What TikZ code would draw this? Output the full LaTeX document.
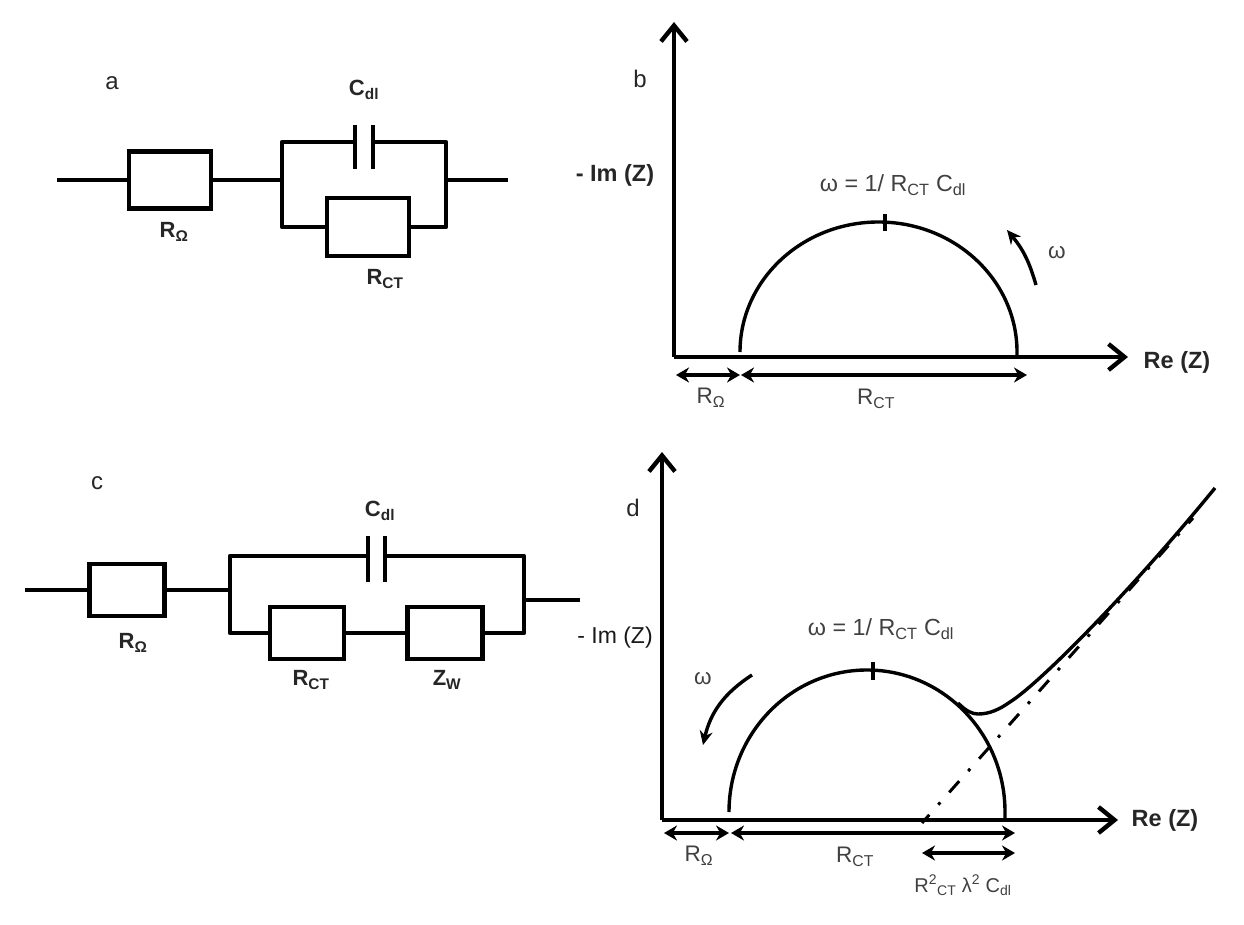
\documentclass[tikz,border=0pt]{standalone}
\usepackage{fontspec}
\setmainfont{Liberation Sans}
\usetikzlibrary{arrows.meta}
\tikzset{
  wire/.style={line width=4.2pt},
  axis/.style={line width=4.2pt, -{Straight Barb[length=16pt,width=26pt,line width=4.4pt]}},
  span/.style={line width=3.6pt, {Stealth[length=13pt,width=15pt]}-{Stealth[length=13pt,width=15pt]}},
  curve/.style={line width=3.4pt},
  tick/.style={line width=3.2pt},
  freq/.style={line width=3.4pt, -{Stealth[length=14pt,width=13pt]}},
  elem/.style={draw, line width=4.5pt, inner sep=0pt, fill=white},
  boldlab/.style={font=\fontsize{22}{24}\selectfont\bfseries, text=black!85, inner sep=0pt},
  plainlab/.style={font=\fontsize{22.5}{25}\selectfont, text=black!75, inner sep=0pt},
  formula/.style={font=\fontsize{23.3}{25}\selectfont, text=black!75, inner sep=0pt},
  smalllab/.style={font=\fontsize{20}{22}\selectfont, text=black!75, inner sep=0pt},
  axlab/.style={font=\fontsize{23.5}{25}\selectfont\bfseries, text=black!85, inner sep=0pt},
  imlab/.style={font=\fontsize{23}{25}\selectfont, text=black!90, inner sep=0pt},
  panel/.style={font=\fontsize{24}{26}\selectfont, text=black!85, inner sep=0pt},
}
\begin{document}
\begin{tikzpicture}[x=1pt,y=-1pt]
\useasboundingbox (0,0) rectangle (1244,925);
% circuit a
\node[elem, minimum width=82pt, minimum height=57pt] (ra) at (170,180){};
\node[elem, minimum width=82pt, minimum height=58pt] (cta) at (368,227){};
\coordinate (ain) at (57,180);
\coordinate (aout) at (508,180);
\coordinate (ajl) at (282,180);
\coordinate (ajr) at (446,180);
\coordinate (atl) at (282,142);
\coordinate (atr) at (446,142);
\coordinate (abl) at (282,227);
\coordinate (abr) at (446,227);
\coordinate (ap1) at (355,142);
\coordinate (ap2) at (373,142);
\coordinate (ap1t) at (355,125);
\coordinate (ap1b) at (355,169);
\coordinate (ap2t) at (373,125);
\coordinate (ap2b) at (373,169);
\draw[wire] (ain) -- (ra);
\draw[wire] (ra) -- (ajl);
\draw[wire] (ajr) -- (aout);
\draw[wire, line join=round] (ap1) -- (atl) -- (abl) -- (cta);
\draw[wire, line join=round] (ap2) -- (atr) -- (abr) -- (cta);
\draw[wire] (ap1t) -- (ap1b);
\draw[wire] (ap2t) -- (ap2b);
\node[panel] (la) at (112,83){a};
\node[boldlab] (cdla) at (364,90){C\textsubscript{dl}};
\node[boldlab] (roa) at (174,232){R\textsubscript{Ω}};
\node[boldlab] (rcta) at (385,279){R\textsubscript{CT}};
% circuit c
\node[elem, minimum width=75pt, minimum height=52pt] (rc) at (127,590){};
\node[elem, minimum width=74pt, minimum height=52pt] (ctc) at (307,633){};
\node[elem, minimum width=75pt, minimum height=52pt] (zw) at (445,633){};
\coordinate (cin) at (25,590);
\coordinate (cout) at (580,600);
\coordinate (cjl) at (230,590);
\coordinate (cjr) at (524,600);
\coordinate (ctl) at (230,556);
\coordinate (ctr) at (524,556);
\coordinate (cbl) at (230,633);
\coordinate (cbr) at (524,633);
\coordinate (cp1) at (368,556);
\coordinate (cp2) at (385,556);
\coordinate (cp1t) at (368,536);
\coordinate (cp1b) at (368,582);
\coordinate (cp2t) at (385,536);
\coordinate (cp2b) at (385,582);
\draw[wire] (cin) -- (rc);
\draw[wire] (rc) -- (cjl);
\draw[wire] (cjr) -- (cout);
\draw[wire, line join=round] (cp1) -- (ctl) -- (cbl) -- (ctc);
\draw[wire, line join=round] (cp2) -- (ctr) -- (cbr) -- (zw);
\draw[wire] (ctc) -- (zw);
\draw[wire] (cp1t) -- (cp1b);
\draw[wire] (cp2t) -- (cp2b);
\node[panel] (lc) at (97,483){c};
\node[boldlab] (cdlc) at (380,511){C\textsubscript{dl}};
\node[boldlab] (roc) at (133,643){R\textsubscript{Ω}};
\node[boldlab] (rctc) at (311,680){R\textsubscript{CT}};
\node[boldlab] (zwc) at (447,680){Z\textsubscript{W}};
% plot b
\coordinate (bo) at (674,357);
\coordinate (bytip) at (674,22);
\coordinate (bxtip) at (1128,357);
\coordinate (bs) at (740,352);
\coordinate (be) at (1017,357);
\coordinate (bt1) at (885,214);
\coordinate (bt2) at (885,231);
\coordinate (bob) at (676,375);
\coordinate (bsb) at (740,375);
\coordinate (bsc) at (741,375);
\coordinate (beb) at (1027,375);
\coordinate (bw1) at (1036,285);
\coordinate (bw2) at (1007,230);
\draw[axis] (bo) -- (bytip);
\draw[axis] (bo) -- (bxtip);
\draw[curve] (bs) arc[start angle=180, end angle=0, x radius=138.5pt, y radius=130pt] -- (be);
\draw[tick] (bt1) -- (bt2);
\draw[span] (bob) -- (bsb);
\draw[span] (bsc) -- (beb);
\draw[freq] (bw1) to[bend right=12] (bw2);
\node[panel] (lb) at (640,79){b};
\node[axlab] (bim) at (615,175){- Im (Z)};
\node[axlab] (bre) at (1177,362){Re (Z)};
\node[formula] (bom) at (893,185){ω = 1/ R\textsubscript{CT} C\textsubscript{dl}};
\node[plainlab] (bw) at (1057,253){ω};
\node[plainlab] (bro) at (711,398){R\textsubscript{Ω}};
\node[plainlab] (brct) at (876,399){R\textsubscript{CT}};
% plot d
\coordinate (do) at (662,820);
\coordinate (dytip) at (662,452);
\coordinate (dxtip) at (1118,820);
\coordinate (ds) at (729,812);
\coordinate (de) at (1005,820);
\coordinate (dt1) at (873,662);
\coordinate (dt2) at (873,680);
\coordinate (dj) at (958,703);
\coordinate (dm) at (978,714);
\coordinate (dn) at (1010,702);
\coordinate (dend) at (1215,488);
\coordinate (dl1) at (922,823);
\coordinate (dl2) at (1193,518);
\coordinate (dob) at (664,833);
\coordinate (dsb) at (729,833);
\coordinate (dsc) at (731,833);
\coordinate (deb) at (1015,833);
\coordinate (dl3) at (922,853);
\coordinate (dl4) at (1015,853);
\coordinate (dw1) at (752,675);
\coordinate (dw2) at (703,745);
\draw[axis] (do) -- (dytip);
\draw[axis] (do) -- (dxtip);
\draw[curve] (ds) arc[start angle=180, end angle=0, x radius=138pt, y radius=142pt] -- (de);
\draw[curve] (dj) .. controls (966,711) and (972,714) .. (dm) .. controls (990,714) and (1000,709) .. (dn) .. controls (1040,683) and (1130,592) .. (dend);
\draw[tick] (dt1) -- (dt2);
\draw[line width=3pt, dash pattern=on 15pt off 13.5pt on 3pt off 13.5pt, dash phase=4pt] (dl1) -- (dl2);
\draw[span] (dob) -- (dsb);
\draw[span] (dsc) -- (deb);
\draw[span] (dl3) -- (dl4);
\draw[freq] (dw1) to[bend right=22] (dw2);
\node[panel] (ld) at (633,508){d};
\node[imlab] (dim) at (615,638){- Im (Z)};
\node[axlab] (dre) at (1165,820){Re (Z)};
\node[formula] (dom) at (881,629){ω = 1/ R\textsubscript{CT} C\textsubscript{dl}};
\node[plainlab] (dw) at (703,679){ω};
\node[plainlab] (dro) at (699,856){R\textsubscript{Ω}};
\node[plainlab] (drct) at (855,857){R\textsubscript{CT}};
\node[smalllab] (dwar) at (963,885){R\textsuperscript{2}\textsubscript{CT} λ\textsuperscript{2} C\textsubscript{dl}};
\end{tikzpicture}
\end{document}
